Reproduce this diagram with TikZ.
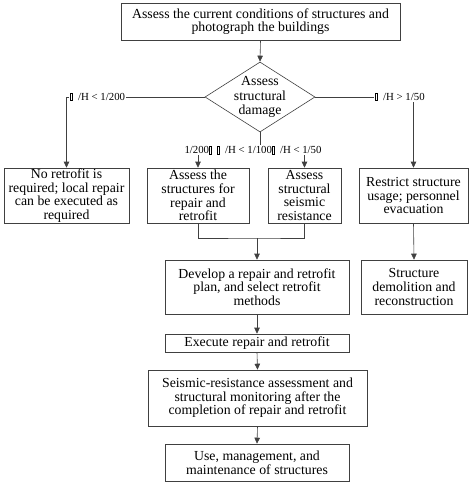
\documentclass[tikz,border=0pt]{standalone}
\usepackage{fontspec}
\setmainfont{Liberation Serif}
\usetikzlibrary{shapes.geometric,arrows.meta}
\newcommand{\tofu}{{\fboxsep=0pt\fboxrule=0.4pt\fbox{\rule{0pt}{7pt}\hspace{1.8pt}}}}
\definecolor{ln}{HTML}{404040}
\tikzset{
  box/.style={draw=ln, line width=0.6pt, align=center, inner sep=0pt, font=\fontsize{13.8}{13.6}\selectfont, text=black},
  lbl/.style={inner sep=1pt, font=\fontsize{10.8}{12}\selectfont, text=black},
  conn/.style={draw=ln, line width=0.6pt},
  arr/.style={conn, -{Triangle[length=6pt,width=5.5pt]}}
}
\begin{document}
\begin{tikzpicture}[x=1pt,y=-1pt]
\useasboundingbox (0,0) rectangle (474,484);
\node[box, minimum width=279pt, minimum height=37pt] (top) at (260.5,21.5) {Assess the current conditions of structures and\\photograph the buildings};
\node[draw=ln, line width=0.6pt, diamond, minimum width=110pt, minimum height=70pt, inner sep=0pt] (dia) at (260,97) {};
\node[align=center, inner sep=0pt, font=\fontsize{13.8}{14.5}\selectfont] (diatext) at (260,97) {Assess\\structural\\damage};

\node[box, minimum width=125pt, minimum height=55pt] (lb) at (66.5,195.5) {No retrofit is\\required; local repair\\can be executed as\\required};
\node[box, minimum width=102pt, minimum height=55pt] (ml) at (198,195.5) {Assess the\\structures for\\repair and\\retrofit};
\node[box, minimum width=73pt, minimum height=55pt] (mr) at (304.5,195.5) {Assess\\structural\\seismic\\resistance};
\node[box, minimum width=109pt, minimum height=55pt] (rb) at (413.5,195.5) {Restrict structure\\usage; personnel\\evacuation};

\node[box, minimum width=184pt, minimum height=54pt] (dev) at (257,287) {Develop a repair and retrofit\\plan, and select retrofit\\methods};
\node[box, minimum width=106pt, minimum height=54pt] (dem) at (414,287) {Structure\\demolition and\\reconstruction};
\node[box, minimum width=184pt, minimum height=18pt] (exe) at (257,343) {Execute repair and retrofit};
\node[box, minimum width=219pt, minimum height=56pt] (sei) at (257.5,398) {Seismic-resistance assessment and\\structural monitoring after the\\completion of repair and retrofit};
\node[box, minimum width=184pt, minimum height=37pt] (use) at (257,462.5) {Use, management, and\\maintenance of structures};

\node[lbl, anchor=west] (lL) at (69,97) {\tofu\ \ /H < 1/200};
\node[lbl, anchor=west] (lR) at (374,97) {\tofu\ \ /H > 1/50};
\node[lbl] (lM) at (253,150) {1/200\tofu\ \ \tofu\ \ /H < 1/100\tofu\ \ /H < 1/50};

\draw[arr] (top.south) -- (dia.north);
\draw[conn] (dia.west) -- (lL.east);
\draw[arr] (lL.west) -| (lb.north);
\draw[conn] (dia.east) -- (lR.west);
\draw[arr] (lR.south -| rb.north) -- (rb.north);
\draw[conn] (dia.south) -- (dia.south |- lM.north);
\draw[arr] (ml.north |- lM.south) -- (ml.north);
\draw[arr] (mr.north |- lM.south) -- (mr.north);

\coordinate (join) at (257,238);
\draw[conn] (ml.south) |- (join) -| (mr.south);
\draw[arr] (join) -- (dev.north);
\draw[arr] (rb.south) -- (dem.north);
\draw[arr] (dev.south) -- (exe.north);
\draw[arr] (exe.south) -- (sei.north);
\draw[arr] (sei.south) -- (use.north);
\end{tikzpicture}
\end{document}
